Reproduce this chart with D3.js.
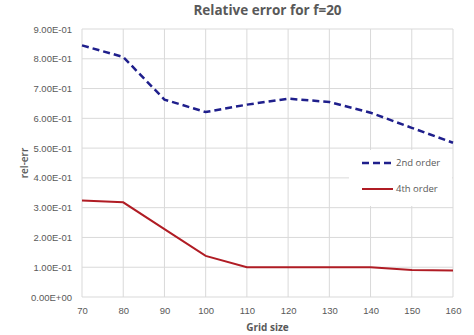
<!DOCTYPE html>
<html>
<head>
<meta charset="utf-8">
<script src="https://cdn.jsdelivr.net/npm/d3@7"></script>
<style>
  html, body { margin: 0; padding: 0; background: #fff; }
  svg { display: block; font-family: "Open Sans", "Liberation Sans", sans-serif; }
</style>
</head>
<body>
<svg id="chart" width="474" height="335"></svg>
<script>
// Grid sizes and the relative error for each scheme order
const gridSizes = [70, 80, 90, 100, 110, 120, 130, 140, 150, 160];
const secondOrder = [0.845, 0.806, 0.663, 0.621, 0.646, 0.666, 0.655, 0.619, 0.568, 0.518];
const fourthOrder = [0.324, 0.318, 0.228, 0.138, 0.100, 0.100, 0.100, 0.100, 0.091, 0.089];
const yTicks = [0, 0.1, 0.2, 0.3, 0.4, 0.5, 0.6, 0.7, 0.8, 0.9];
const seriesNames = ["2nd order", "4th order"];

const svg = d3.select("#chart");
const margin = { left: 82, right: 21, top: 29, bottom: 38 };
const W = 474, H = 335;

const x = d3.scaleLinear().domain([70, 160]).range([margin.left, W - margin.right]);
const y = d3.scaleLinear().domain([0, 0.9]).range([H - margin.bottom, margin.top]);

const textColor = "#595959";
const gridColor = "#d9d9d9";

// Gridlines
svg.append("g").selectAll("line.v").data(gridSizes).join("line")
  .attr("x1", d => x(d)).attr("x2", d => x(d))
  .attr("y1", y(0)).attr("y2", y(0.9))
  .attr("stroke", gridColor).attr("stroke-width", 1);
svg.append("g").selectAll("line.h").data(yTicks).join("line")
  .attr("x1", x(70)).attr("x2", x(160))
  .attr("y1", d => y(d)).attr("y2", d => y(d))
  .attr("stroke", gridColor).attr("stroke-width", 1);

// Scientific-notation tick labels, e.g. 9.00E-01
const fmt = d => {
  if (d === 0) return "0.00E+00";
  const e = Math.floor(Math.log10(d));
  const m = d / Math.pow(10, e);
  const sign = e < 0 ? "-" : "+";
  return m.toFixed(2) + "E" + sign + String(Math.abs(e)).padStart(2, "0");
};

const yAxis = svg.append("g")
  .attr("transform", `translate(${margin.left},0)`)
  .call(d3.axisLeft(y).tickValues(yTicks).tickFormat(fmt).tickSize(0).tickPadding(10));
yAxis.select(".domain").remove();
yAxis.selectAll("text").attr("fill", textColor).attr("font-size", 9.5);

const xAxis = svg.append("g")
  .attr("transform", `translate(0,${y(0)})`)
  .call(d3.axisBottom(x).tickValues(gridSizes).tickFormat(d3.format("d")).tickSize(0).tickPadding(10));
xAxis.select(".domain").remove();
xAxis.selectAll("text").attr("fill", textColor).attr("font-size", 9.5);

// Series lines
const line = d3.line().x((d, i) => x(gridSizes[i])).y(d => y(d));

svg.append("path").datum(secondOrder)
  .attr("d", line)
  .attr("fill", "none")
  .attr("stroke", "#1f1f8c")
  .attr("stroke-width", 2.5)
  .attr("stroke-dasharray", "7,4");

svg.append("path").datum(fourthOrder)
  .attr("d", line)
  .attr("fill", "none")
  .attr("stroke", "#b01c24")
  .attr("stroke-width", 2);

// Legend
const legend = svg.append("g");
legend.append("rect")
  .attr("x", 349).attr("y", 150).attr("width", 103).attr("height", 56)
  .attr("fill", "#fff");
const legendRows = [
  { name: seriesNames[0], color: "#1f1f8c", dash: "7,4", w: 2.5, yy: 163 },
  { name: seriesNames[1], color: "#b01c24", dash: null, w: 2, yy: 189 }
];
legendRows.forEach(r => {
  legend.append("line")
    .attr("x1", 362).attr("x2", 393).attr("y1", r.yy).attr("y2", r.yy)
    .attr("stroke", r.color).attr("stroke-width", r.w)
    .attr("stroke-dasharray", r.dash);
  legend.append("text")
    .attr("x", 396).attr("y", r.yy).attr("dy", "0.35em")
    .attr("fill", textColor).attr("font-size", 9.5)
    .text(r.name);
});

// Titles
svg.append("text")
  .attr("x", (x(70) + x(160)) / 2).attr("y", 15)
  .attr("text-anchor", "middle")
  .attr("fill", textColor).attr("font-size", 13.5).attr("font-weight", "bold")
  .text("Relative error for f=20");

svg.append("text")
  .attr("x", (x(70) + x(160)) / 2).attr("y", 331)
  .attr("text-anchor", "middle")
  .attr("fill", textColor).attr("font-size", 10).attr("font-weight", "bold")
  .text("Grid size");

svg.append("text")
  .attr("transform", `translate(28,${y(0.45)}) rotate(-90)`)
  .attr("text-anchor", "middle")
  .attr("fill", textColor).attr("font-size", 10).attr("font-weight", "600")
  .text("rel-err");
</script>
</body>
</html>
